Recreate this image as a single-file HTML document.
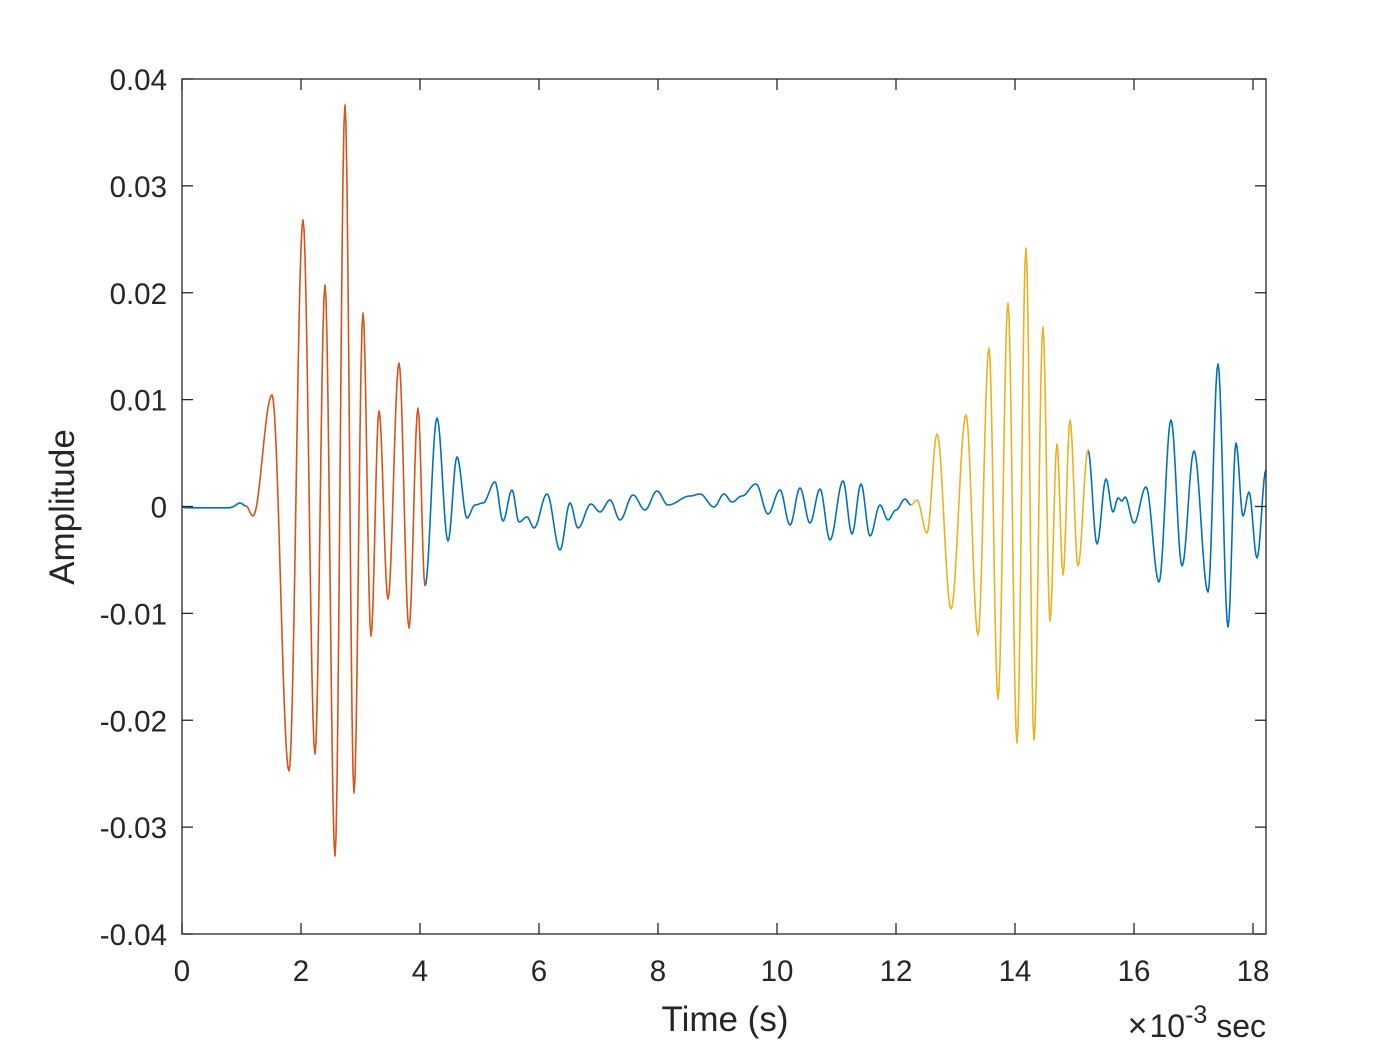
<!DOCTYPE html>
<html><head><meta charset="utf-8"><style>
body{margin:0;background:#fff;width:1400px;height:1050px;overflow:hidden}
text{font-family:"Liberation Sans",Arial,sans-serif;fill:#262626}
</style></head><body>
<svg id="s" width="1400" height="1050" xmlns="http://www.w3.org/2000/svg">
<rect x="0" y="0" width="1400" height="1050" fill="#fff"/>
<g id="lines" fill="none" stroke-width="1.6" stroke-linejoin="round"></g>
<g stroke="#262626" stroke-width="1.3" fill="none">
<rect x="182" y="79" width="1084" height="855"/>
<g id="ticks"></g>
</g>
<g id="labels" font-size="29.5"></g>
<text x="725" y="1031" font-size="35" text-anchor="middle">Time (s)</text>
<text transform="translate(74,507) rotate(-90)" font-size="35" text-anchor="middle">Amplitude</text>
<text x="1266" y="1037" font-size="32" text-anchor="end"><tspan font-size="34">×</tspan><tspan dx="2">10</tspan><tspan dy="-14" font-size="25">-3</tspan><tspan dy="14"> sec</tspan></text>
</svg>
<script>
var NS="http://www.w3.org/2000/svg";
function el(p,t,a,txt){var e=document.createElementNS(NS,t);for(var k in a)e.setAttribute(k,a[k]);if(txt!=null)e.textContent=txt;p.appendChild(e);return e;}
var tk=document.getElementById('ticks'),lb=document.getElementById('labels');
for(var i=0;i<=9;i++){var x=182+i*119.0;if(x>1266)break;
 el(tk,'line',{x1:x,y1:934,x2:x,y2:923});el(tk,'line',{x1:x,y1:79,x2:x,y2:90});
 el(lb,'text',{x:x,y:981,'text-anchor':'middle'},String(i*2));}
var yl=['0.04','0.03','0.02','0.01','0','-0.01','-0.02','-0.03','-0.04'];
for(var j=0;j<9;j++){var y=79+j*106.875;
 el(tk,'line',{x1:182,y1:y,x2:193,y2:y});el(tk,'line',{x1:1266,y1:y,x2:1255,y2:y});
 el(lb,'text',{x:167,y:y+11,'text-anchor':'end'},yl[j]);}
function path(pts){var d='M'+pts[0][0]+','+pts[0][1];
 for(var i=1;i<pts.length;i++){var a=pts[i-1],b=pts[i];var n=Math.max(4,Math.round((b[0]-a[0])));
  for(var k=1;k<=n;k++){var t=k/n;var m=(1-Math.cos(Math.PI*t))/2;d+=' L'+(a[0]+(b[0]-a[0])*t).toFixed(2)+','+(a[1]+(b[1]-a[1])*m).toFixed(2);}}
 return d;}
var g=document.getElementById('lines');
var blue1=[[182,507]];for(var x=186;x<232;x+=4)blue1.push([x,507+((x/4)%2?0.8:-0.8)]);
blue1=blue1.concat([[232,507],[240,503],[246,506]]);
var orange=[[246,506],[253,516],[272,395],[289,771],[303,220],[315,754],[325,285],[335,856],[345,105],[354,793],[363,313],[371,636],[379,411],[388,599],[399,363],[409,628],[418,408],[425,586]];
var blue2=[[425,586],[437,418],[448,541],[457,457],[467,518],[475,505],[483,503],[495,482],[503,521],[512,490],[519,522],[527,517],[534,528],[547,494],[560,550],[570,503],[578,528],[591,504],[600,512],[610,500],[620,520],[633,495],[645,510],[657,491],[668,505],[690,496],[700,494],[714,507],[724,494],[732,502],[742,496],[756,484],[768,514],[780,490],[790,525],[800,488],[810,523],[820,489],[830,540],[843,481],[852,534],[861,484],[870,536],[880,505],[888,520],[896,510],[905,499],[911,505]];
var yellow=[[911,505],[917,500],[927,533],[937,434],[951,609],[966,415],[978,635],[989,348],[998,699],[1008,303],[1017,743],[1026,248],[1034,740],[1043,327],[1050,621],[1057,444],[1063,575],[1070,420],[1078,566],[1088,450]];
var blue3=[[1088,450],[1097,544],[1106,479],[1113,512],[1118,498],[1122,501],[1125,497],[1134,523],[1146,487],[1159,582],[1171,420],[1182,566],[1194,451],[1208,592],[1218,364],[1228,627],[1236,443],[1243,516],[1249,492],[1257,558],[1266,470]];
el(g,'path',{d:path(blue1),stroke:'#0072BD'});
el(g,'path',{d:path(blue2),stroke:'#0072BD'});
el(g,'path',{d:path(blue3),stroke:'#0072BD'});
el(g,'path',{d:path(orange),stroke:'#D95319'});
el(g,'path',{d:path(yellow),stroke:'#EDB120'});
</script>
</body></html>
